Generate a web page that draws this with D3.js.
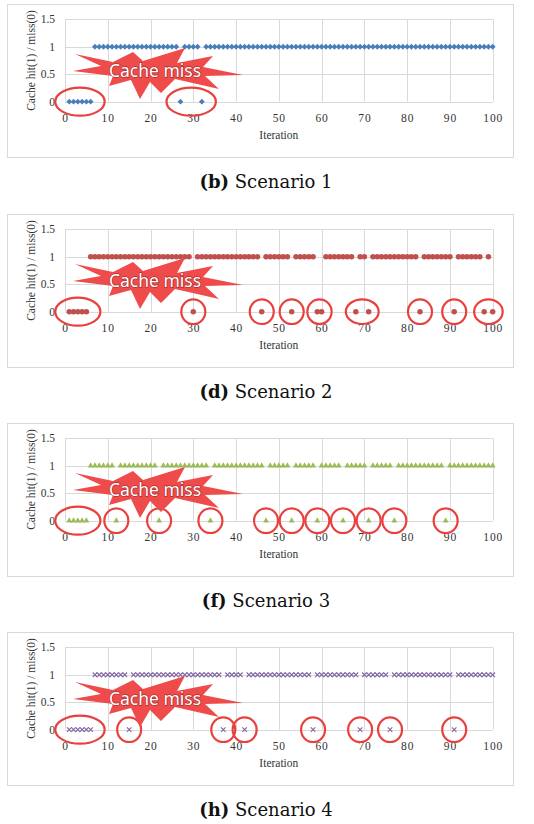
<!DOCTYPE html>
<html>
<head>
<meta charset="utf-8">
<script src="https://d3js.org/d3.v7.min.js"></script>
<style>
  body { margin: 0; background: #fff; }
</style>
</head>
<body>
<div id="chart"></div>
<script>

// cache hit (1) / miss (0) per iteration 1..100
var iteration = d3.range(1, 101);

var scenario1 = [0,0,0,0,0,0,1,1,1,1, 1,1,1,1,1,1,1,1,1,1, 1,1,1,1,1,1,0,1,1,1, 1,0,1,1,1,1,1,1,1,1,
                 1,1,1,1,1,1,1,1,1,1, 1,1,1,1,1,1,1,1,1,1, 1,1,1,1,1,1,1,1,1,1, 1,1,1,1,1,1,1,1,1,1,
                 1,1,1,1,1,1,1,1,1,1, 1,1,1,1,1,1,1,1,1,1];
var scenario2 = [0,0,0,0,0,1,1,1,1,1, 1,1,1,1,1,1,1,1,1,1, 1,1,1,1,1,1,1,1,1,0, 1,1,1,1,1,1,1,1,1,1,
                 1,1,1,1,1,0,1,1,1,1, 1,1,0,1,1,1,1,1,0,0, 1,1,1,1,1,1,1,0,1,1, 0,1,1,1,1,1,1,1,1,1,
                 1,1,0,1,1,1,1,1,1,1, 0,1,1,1,1,1,1,0,1,0];
var scenario3 = [0,0,0,0,0,1,1,1,1,1, 1,0,1,1,1,1,1,1,1,1, 1,0,1,1,1,1,1,1,1,1, 1,1,1,0,1,1,1,1,1,1,
                 1,1,1,1,1,1,0,1,1,1, 1,1,0,1,1,1,1,1,0,1, 1,1,1,1,0,1,1,1,1,1, 0,1,1,1,1,1,0,1,1,1,
                 1,1,1,1,1,1,1,1,0,1, 1,1,1,1,1,1,1,1,1,1];
var scenario4 = [0,0,0,0,0,0,1,1,1,1, 1,1,1,1,0,1,1,1,1,1, 1,1,1,1,1,1,1,1,1,1, 1,1,1,1,1,1,0,1,1,1,
                 1,0,1,1,1,1,1,1,1,1, 1,1,1,1,1,1,1,0,1,1, 1,1,1,1,1,1,1,1,0,1, 1,1,1,1,1,0,1,1,1,1,
                 1,1,1,1,1,1,1,1,1,1, 0,1,1,1,1,1,1,1,1,1];

// iteration ranges circled as "Cache miss"
var circled1 = [[1,6],[27,32]];
var circled2 = [[1,5],[30,30],[46,46],[53,53],[59,60],[68,71],[83,83],[91,91],[98,100]];
var circled3 = [[1,5],[12,12],[22,22],[34,34],[47,47],[53,53],[59,59],[65,65],[71,71],[77,77],[89,89]];
var circled4 = [[1,6],[15,15],[37,37],[42,42],[58,58],[69,69],[76,76],[91,91]];

var captionTags = ["(b)", "(d)", "(f)", "(h)"];
var captionNames = ["Scenario 1", "Scenario 2", "Scenario 3", "Scenario 4"];

var xTicks = [0,10,20,30,40,50,60,70,80,90,100];
var yTicks = [0,0.5,1,1.5];

var panels = [
  {values: scenario1, circled: circled1, color: "#4a7ebb", shape: "diamond"},
  {values: scenario2, circled: circled2, color: "#c0504d", shape: "circle"},
  {values: scenario3, circled: circled3, color: "#9bbb59", shape: "triangle"},
  {values: scenario4, circled: circled4, color: "#8064a2", shape: "x"}
];

var width = 534, height = 824;
var tops = [4, 214, 423, 632];

var svg = d3.select("#chart").append("svg")
    .attr("width", width)
    .attr("height", height)
    .style("display", "block");

var x = d3.scaleLinear().domain([0, 100]).range([65, 492.7]);
var y = d3.scaleLinear().domain([0, 1.5]).range([97.7, 15.3]);

var serif = "'Liberation Serif', 'Times New Roman', serif";

// star shape behind the "Cache miss" label
var burst = [[-80,-16],[-42,-8],[-22,-18],[-12,-9],[30,-22],[22,-7],[58,-14],[48,-3],[88,5],[50,6],[64,19],[20,9],
             [6,23],[-5,12],[-15,29],[-24,10],[-46,16],[-42,6],[-82,1],[-54,-4]];

var xSymbol = d3.symbolTimes || {
  draw: function(ctx, size) {
    var r = Math.sqrt(size) * 0.58;
    ctx.moveTo(-r, -r); ctx.lineTo(r, r);
    ctx.moveTo(-r, r); ctx.lineTo(r, -r);
  }
};

panels.forEach(function(p, i) {
  var g = svg.append("g").attr("transform", "translate(0," + tops[i] + ")");

  g.append("rect")
    .attr("x", 7.5).attr("y", 0.5)
    .attr("width", 506).attr("height", 153)
    .attr("fill", "#fff")
    .attr("stroke", "#d9d9d9");

  // gridlines
  g.append("g").selectAll("line").data(yTicks).enter().append("line")
    .attr("x1", x(0)).attr("x2", x(100))
    .attr("y1", function(d) { return Math.round(y(d)) + 0.5; })
    .attr("y2", function(d) { return Math.round(y(d)) + 0.5; })
    .attr("stroke", "#d9d9d9");
  g.append("g").selectAll("line").data(xTicks).enter().append("line")
    .attr("y1", y(1.5)).attr("y2", y(0))
    .attr("x1", function(d) { return Math.round(x(d)) + 0.5; })
    .attr("x2", function(d) { return Math.round(x(d)) + 0.5; })
    .attr("stroke", "#d9d9d9");

  // axes (labels only, lines hidden)
  var xAxis = g.append("g")
    .attr("transform", "translate(0," + y(0) + ")")
    .call(d3.axisBottom(x).tickValues(xTicks).tickSize(0).tickPadding(12));
  var yAxis = g.append("g")
    .attr("transform", "translate(" + x(0) + ",0)")
    .call(d3.axisLeft(y).tickValues(yTicks).tickSize(0).tickPadding(10)
      .tickFormat(function(d) { return d; }));
  [xAxis, yAxis].forEach(function(a) {
    a.attr("font-family", serif);
    a.select(".domain").remove();
    a.selectAll("text")
      .attr("font-size", 11.5)
      .attr("fill", "#333");
  });
  xAxis.selectAll("text").attr("letter-spacing", 0.9);

  g.append("text")
    .attr("transform", "translate(35," + y(0.75) + ") rotate(-90)")
    .attr("text-anchor", "middle")
    .attr("font-family", serif)
    .attr("font-size", 11.5)
    .attr("fill", "#333")
    .text("Cache hit(1) / miss(0)");

  g.append("text")
    .attr("x", (x(0) + x(100)) / 2)
    .attr("y", 135)
    .attr("text-anchor", "middle")
    .attr("font-family", serif)
    .attr("font-size", 11.5)
    .attr("fill", "#333")
    .text("Iteration");

  // markers
  var sym;
  if (p.shape == "diamond") sym = d3.symbol(d3.symbolSquare, 17);
  else if (p.shape == "circle") sym = d3.symbol(d3.symbolCircle, 24);
  else if (p.shape == "triangle") sym = d3.symbol(d3.symbolTriangle, 15);
  else sym = d3.symbol(xSymbol, 15);

  g.append("g").selectAll("path")
    .data(p.values)
    .enter().append("path")
      .attr("d", sym)
      .attr("transform", function(d, j) {
        return "translate(" + x(iteration[j]) + "," + y(d) + ")" + (p.shape == "diamond" ? " rotate(45)" : "");
      })
      .attr("fill", p.shape == "x" ? "none" : p.color)
      .attr("stroke", p.shape == "x" ? p.color : "none")
      .attr("stroke-width", 1.1);

  // miss circles
  g.append("g").selectAll("ellipse")
    .data(p.circled)
    .enter().append("ellipse")
      .attr("cx", function(d) { return (x(d[0]) + x(d[1])) / 2; })
      .attr("cy", y(0))
      .attr("rx", function(d) {
        var span = x(d[1]) - x(d[0]);
        return span == 0 ? 12 : span / 2 + (span > 15 ? 14 : 10);
      })
      .attr("ry", function(d) { return x(d[1]) - x(d[0]) > 15 ? 14 : 12.3; })
      .attr("fill", "none")
      .attr("stroke", "#e8403d")
      .attr("stroke-width", 2.2);

  // "Cache miss" callout
  var cx = 155, cy = 66;
  g.append("polygon")
    .attr("points", burst.map(function(b) { return (cx + b[0]) + "," + (cy + b[1]); }).join(" "))
    .attr("fill", "#f04b4b");
  g.append("text")
    .attr("x", cx).attr("y", cy + 6.5)
    .attr("text-anchor", "middle")
    .attr("font-family", "'Noto Sans', 'Open Sans', sans-serif")
    .attr("font-size", 17.5)
    .attr("fill", "#fff")
    .attr("stroke", "rgba(110,20,20,0.55)")
    .attr("stroke-width", 1.4)
    .attr("paint-order", "stroke")
    .text("Cache miss");

  // caption
  var cap = g.append("text")
    .attr("x", 266)
    .attr("y", 184)
    .attr("text-anchor", "middle")
    .attr("font-family", "'DejaVu Serif', serif")
    .attr("font-size", 18)
    .attr("fill", "#111");
  cap.append("tspan").attr("font-weight", "bold").text(captionTags[i]);
  cap.append("tspan").text(" " + captionNames[i]);
});

</script>
</body>
</html>
